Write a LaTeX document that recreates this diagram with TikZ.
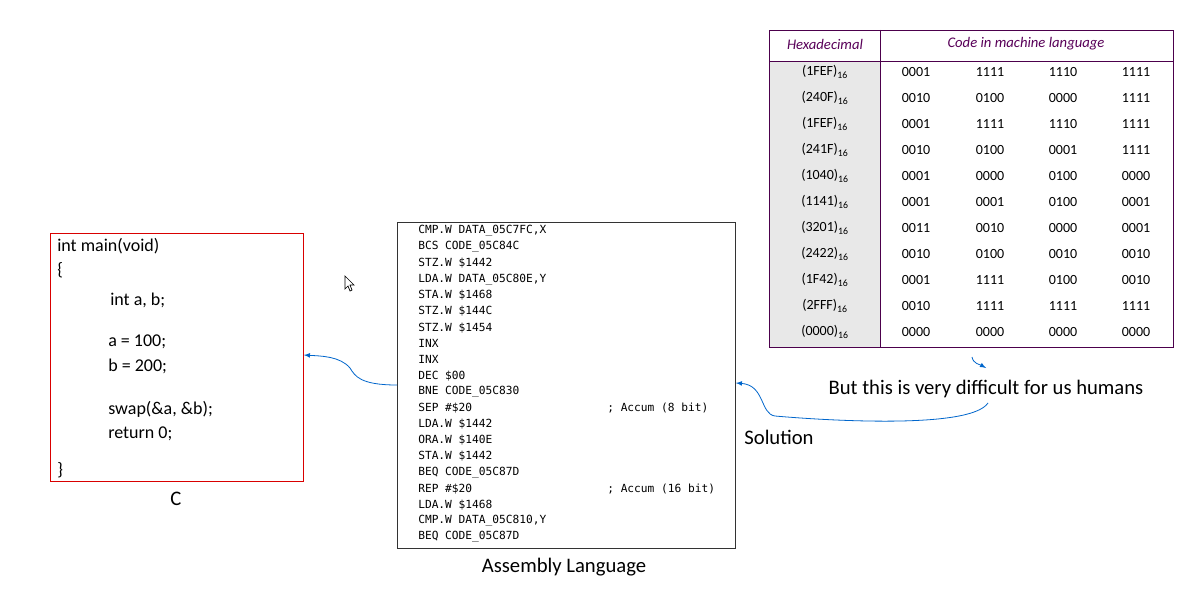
\documentclass[tikz,border=0pt]{standalone}
\usepackage{fontspec}
\setmainfont{Carlito}
\newfontfamily\asmfont{DejaVu Sans Mono}
\begin{document}
\begin{tikzpicture}[x=0.75pt,y=-0.75pt,
  ctext/.style={anchor=west,font=\fontsize{13.5}{13.5}\selectfont,inner sep=0},
  asm/.style={anchor=west,font=\asmfont\fontsize{8.4}{9}\selectfont,inner sep=0},
  hex/.style={font=\fontsize{10.5}{10.5}\selectfont,inner sep=0},
  hdr/.style={font=\itshape\fontsize{11}{11}\selectfont,text=violet!70!black,inner sep=0},
  lbl/.style={font=\fontsize{15.5}{15.5}\selectfont,inner sep=0},
  conn/.style={draw=blue!50!cyan!80!black,line width=0.6pt,-latex}]
\useasboundingbox (0,0) rectangle (1200,592);
\fill[white] (0,0) rectangle (1200,592);
% C box
\node[draw=red!85!black,line width=0.6pt,minimum width=253*0.75pt,minimum height=248*0.75pt,inner sep=0,anchor=north west] (cbox) at (50,233) {};
\node[ctext] (c1) at (57,246) {int main(void)};
\node[ctext] (c2) at (57,270) {\{};
\node[ctext] (c3) at (110,300) {int a, b;};
\node[ctext] (c4) at (108,342) {a = 100;};
\node[ctext] (c5) at (108,366) {b = 200;};
\node[ctext] (c6) at (108,409) {swap(\&a, \&b);};
\node[ctext] (c7) at (108,434) {return 0;};
\node[ctext] (c8) at (57,470) {\}};
\node[lbl] (clbl) at (176,499) {C};
% cursor
\draw[fill=white,line width=0.5pt] (345,276) -- (345,289) -- (348,286) -- (350,291) -- (352,290) -- (350,285) -- (354,285) -- cycle;
% assembly box
\node[draw=black!80,line width=0.6pt,minimum width=338*0.75pt,minimum height=326*0.75pt,inner sep=0,anchor=north west] (abox) at (397,222) {};
\foreach \t [count=\i from 0] in {{CMP.W DATA\_05C7FC,X},BCS CODE\_05C84C,STZ.W \$1442,{LDA.W DATA\_05C80E,Y},STA.W \$1468,STZ.W \$144C,STZ.W \$1454,INX,INX,DEC \$00,BNE CODE\_05C830,SEP \#\$20,LDA.W \$1442,ORA.W \$140E,STA.W \$1442,BEQ CODE\_05C87D,REP \#\$20,LDA.W \$1468,{CMP.W DATA\_05C810,Y},BEQ CODE\_05C87D}
  \node[asm] (a\i) at (418,231+16.1*\i) {\t};
\node[asm] (cm1) at (607,408) {; Accum (8 bit)};
\node[asm] (cm2) at (607,489.5) {; Accum (16 bit)};
\node[lbl] (albl) at (564,567) {Assembly Language};
% table
\fill[gray!18] (770,61) rectangle (880,347);
\draw[violet!60!black,line width=0.7pt] (769,30) rectangle (1173,347);
\draw[violet!60!black,line width=0.7pt] (769,61) -- (1173,61);
\draw[violet!60!black,line width=0.7pt] (880,30) -- (880,347);
\node[hdr] (h1) at (825,44) {Hexadecimal};
\node[hdr] (h2) at (1026,44) {Code in machine language};
\foreach \h/\a/\b/\c/\d [count=\i from 0] in {1FEF/0001/1111/1110/1111,240F/0010/0100/0000/1111,1FEF/0001/1111/1110/1111,241F/0010/0100/0001/1111,1040/0001/0000/0100/0000,1141/0001/0001/0100/0001,3201/0011/0010/0000/0001,2422/0010/0100/0010/0010,1F42/0001/1111/0100/0010,2FFF/0010/1111/1111/1111,0000/0000/0000/0000/0000}{
  \node[hex] (hx\i) at (825,72+26*\i) {(\h)$_{\mathrm{16}}$};
  \node[hex] (ba\i) at (916,72+26*\i) {\a};
  \node[hex] (bb\i) at (990,72+26*\i) {\b};
  \node[hex] (bc\i) at (1063,72+26*\i) {\c};
  \node[hex] (bd\i) at (1136,72+26*\i) {\d};
}
\node[lbl] (hum) at (986,389) {But this is very difficult for us humans};
\node[lbl] (sol) at (779,437) {Solution};
% connectors
\coordinate (s1) at (972,357);
\coordinate (s2) at (986,368);
\draw[conn] (s1) to[out=-80,in=150] (s2);
\coordinate (d1) at (988,403);
\draw[conn] (d1) .. controls (970,430) and (820,420) .. (775,416) .. controls (760,414) and (765,385) .. (abox.east |- 0,383);
\draw[conn] (abox.west |- 0,385) .. controls (360,385) and (355,376) .. (350,368) .. controls (340,356) and (320,356) .. (cbox.east |- 0,355);
\end{tikzpicture}
\end{document}
